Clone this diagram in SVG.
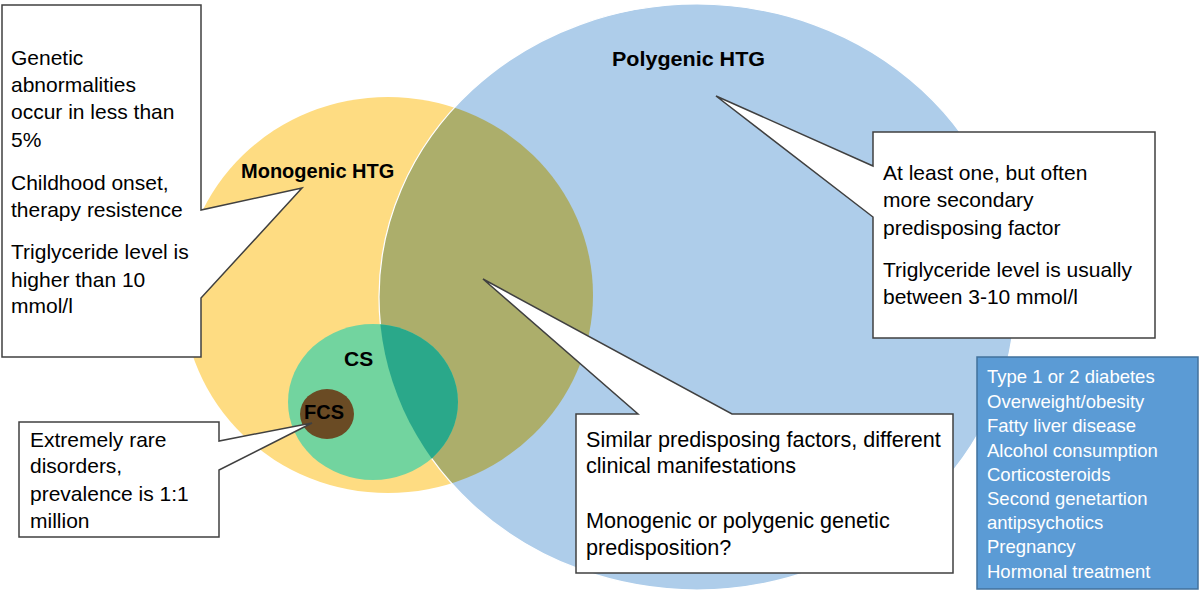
<svg xmlns="http://www.w3.org/2000/svg" width="1200" height="591" viewBox="0 0 1200 591">
<style>
.t{font-family:"Liberation Sans",Arial,sans-serif;font-size:21px;fill:#000}
.m{font-size:21.6px}
.b{font-family:"Liberation Sans",Arial,sans-serif;font-size:20px;font-weight:bold;fill:#000}
.w{font-family:"Liberation Sans",Arial,sans-serif;font-size:18.5px;fill:#fff}
.call{fill:#fff;stroke:#404040;stroke-width:1.5;stroke-linejoin:miter}
</style>
<defs>
<clipPath id="blueClip"><ellipse cx="697" cy="297" rx="318" ry="293"/></clipPath>
</defs>
<rect width="1200" height="591" fill="#fff"/>
<g id="monogenic">
<ellipse cx="388" cy="295" rx="205" ry="198" fill="#FEDC82"/>
</g>
<g id="polygenic">
<ellipse cx="697" cy="297" rx="318" ry="293" fill="#AECDEA"/>
<ellipse cx="388" cy="295" rx="205" ry="198" fill="#ACAE6B" clip-path="url(#blueClip)"/>
<ellipse cx="697" cy="297" rx="318" ry="293" fill="none" stroke="#fff" stroke-width="1.2"/>
<text class="b" x="612" y="66" style="font-size:21px" textLength="153" lengthAdjust="spacingAndGlyphs">Polygenic HTG</text>
</g>
<g id="cs">
<ellipse cx="373" cy="402" rx="85" ry="78" fill="#72D49F"/>
<ellipse cx="373" cy="402" rx="85" ry="78" fill="#2AA88A" clip-path="url(#blueClip)"/>
<text class="b" x="344" y="366" style="font-size:21px">CS</text>
</g>
<g id="monogenic-label">
<text class="b" x="241" y="178">Monogenic HTG</text>
</g>
<g id="fcs">
<ellipse cx="327" cy="414" rx="27" ry="25" fill="#6A4B24"/>
<text class="b" x="304" y="419" style="font-size:20px">FCS</text>
</g>
<g id="connectors"></g>
<g id="callout-monogenic">
<path class="call" d="M2,5 H201 V210 L302,188 L201,298 V357 H2 Z"/>
<text class="t" x="11" y="65">Genetic</text>
<text class="t" x="11" y="92">abnormalities</text>
<text class="t" x="11" y="119">occur in less than</text>
<text class="t" x="11" y="147">5%</text>
<text class="t" x="11" y="190">Childhood onset,</text>
<text class="t" x="11" y="217">therapy resistence</text>
<text class="t" x="11" y="259">Triglyceride level is</text>
<text class="t" x="11" y="287">higher than 10</text>
<text class="t" x="11" y="313">mmol/l</text>
</g>
<g id="callout-fcs">
<path class="call" d="M19,422 H219 V441 L312,423 L219,470 V537 H19 Z"/>
<text class="t" x="30" y="447">Extremely rare</text>
<text class="t" x="30" y="473">disorders,</text>
<text class="t" x="30" y="501">prevalence is 1:1</text>
<text class="t" x="30" y="528">million</text>
</g>
<g id="callout-overlap">
<path class="call" d="M576,414 H638 L483,279 L732,414 H953 V573 H576 Z"/>
<text class="t m" x="586" y="447">Similar predisposing factors, different</text>
<text class="t m" x="586" y="473">clinical manifestations</text>
<text class="t m" x="586" y="528">Monogenic or polygenic genetic</text>
<text class="t m" x="586" y="555">predisposition?</text>
</g>
<g id="callout-polygenic">
<path class="call" d="M873,132 H1155 V338 H873 V217 L716,96 L873,166 Z"/>
<text class="t" x="883" y="180">At least one, but often</text>
<text class="t" x="883" y="207">more secondary</text>
<text class="t" x="883" y="235">predisposing factor</text>
<text class="t" x="883" y="277">Triglyceride level is usually</text>
<text class="t" x="883" y="304">between 3-10 mmol/l</text>
</g>
<g id="factors">
<rect x="977" y="357" width="221" height="232" fill="#5B9BD5" stroke="#41719C" stroke-width="1.5"/>
<text class="w" x="987" y="383">Type 1 or 2 diabetes</text>
<text class="w" x="987" y="408">Overweight/obesity</text>
<text class="w" x="987" y="432">Fatty liver disease</text>
<text class="w" x="987" y="457">Alcohol consumption</text>
<text class="w" x="987" y="481">Corticosteroids</text>
<text class="w" x="987" y="505">Second genetartion</text>
<text class="w" x="987" y="529">antipsychotics</text>
<text class="w" x="987" y="553">Pregnancy</text>
<text class="w" x="987" y="578">Hormonal treatment</text>
</g>
</svg>
